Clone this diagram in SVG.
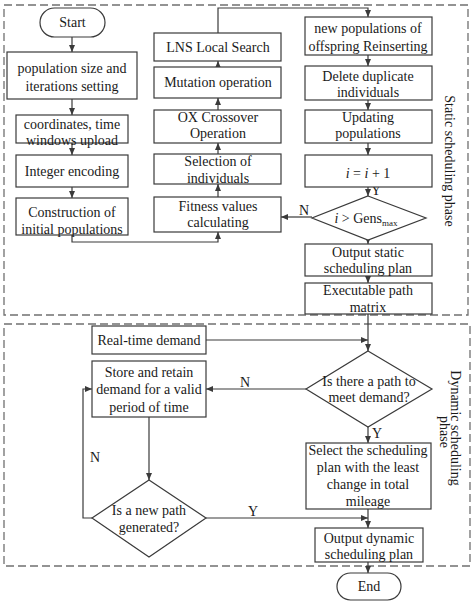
<svg xmlns="http://www.w3.org/2000/svg" width="474" height="605" viewBox="0 0 474 605">
<style>
.b{fill:#fff;stroke:#3a3a3a;stroke-width:1.2}
.t{font-family:"Liberation Serif","Times New Roman",serif;font-size:14px;fill:#1a1a1a;text-anchor:middle}
.l{font-family:"Liberation Serif","Times New Roman",serif;font-size:14px;fill:#1a1a1a}
.c{fill:none;stroke:#3a3a3a;stroke-width:1.2}
.a{marker-end:url(#ah)}
.d{fill:none;stroke:#707070;stroke-width:1.3;stroke-dasharray:8 4}
</style>
<defs>
<marker id="ah" markerUnits="userSpaceOnUse" markerWidth="8" markerHeight="8" refX="7" refY="4" orient="auto">
<path d="M0,1 L7,4 L0,7 Z" fill="#3a3a3a"/>
</marker>
</defs>
<rect class="d" x="4" y="5" width="464" height="310"/>
<rect class="d" x="4" y="324" width="466" height="242"/>
<text class="t" transform="translate(450,161) rotate(90)" dy="5" font-size="14.5">Static scheduling phase</text>
<text class="t" transform="translate(456,428) rotate(90)" dy="5" font-size="15.5">Dynamic scheduling</text>
<text class="t" transform="translate(445,432) rotate(90)" dy="5" font-size="15">phase</text>

<g id="connectors">
<path class="c a" d="M72,37 V52"/>
<path class="c a" d="M72,99 V115"/>
<path class="c a" d="M72,143 V155"/>
<path class="c a" d="M72,187 V198"/>
<path class="c a" d="M72,235 V242 H218 V232"/>
<path class="c a" d="M218,197 V184"/>
<path class="c a" d="M218,154 V143"/>
<path class="c a" d="M218,110 V98"/>
<path class="c a" d="M218,67 V61"/>
<path class="c a" d="M218,33 V8 H368 V17"/>
<path class="c a" d="M368,55 V66"/>
<path class="c a" d="M368,100 V110"/>
<path class="c a" d="M368,143 V155"/>
<path class="c a" d="M368,187 V196"/>
<path class="c a" d="M312,217 H281"/>
<path class="c a" d="M368,240 V244"/>
<path class="c a" d="M368,276 V283"/>
<path class="c a" d="M368,314 V351"/>
<path class="c a" d="M206,340 H368"/>
<path class="c a" d="M306,389 H206"/>
<path class="c a" d="M368,427 V443"/>
<path class="c a" d="M368,509 V528"/>
<path class="c a" d="M206,518 H368"/>
<path class="c a" d="M149,417 V480"/>
<path class="c a" d="M92,518 H83 V389 H92"/>
<path class="c a" d="M368,562 V573"/>
<text class="l" x="371" y="195">Y</text>
<text class="l" x="299" y="215">N</text>
<text class="l" x="240" y="387">N</text>
<text class="l" x="372" y="438">Y</text>
<text class="l" x="248" y="516">Y</text>
<text class="l" x="90" y="462">N</text>
</g>

<g id="start"><rect class="b" x="40" y="8" width="65" height="29" rx="14.5"/><text class="t" x="72.5" y="27">Start</text></g>
<g id="pop"><rect class="b" x="7" y="52" width="130" height="47"/><text class="t" x="72" y="73">population size and</text><text class="t" x="72" y="91">iterations setting</text></g>
<g id="coord"><rect class="b" x="16" y="115" width="112" height="28"/><text class="t" x="72" y="129">coordinates, time</text><text class="t" x="72" y="145">windows upload</text></g>
<g id="integer"><rect class="b" x="16" y="155" width="112" height="32"/><text class="t" x="72" y="176">Integer encoding</text></g>
<g id="construct"><rect class="b" x="16" y="198" width="112" height="37"/><text class="t" x="72" y="217">Construction of</text><text class="t" x="72" y="234">initial populations</text></g>

<g id="lns"><rect class="b" x="154" y="33" width="127" height="28"/><text class="t" x="218" y="52">LNS Local Search</text></g>
<g id="mutation"><rect class="b" x="154" y="67" width="127" height="31"/><text class="t" x="218" y="87">Mutation operation</text></g>
<g id="ox"><rect class="b" x="154" y="110" width="127" height="33"/><text class="t" x="218" y="122">OX Crossover</text><text class="t" x="218" y="138">Operation</text></g>
<g id="selection"><rect class="b" x="154" y="154" width="127" height="30"/><text class="t" x="218" y="166">Selection of</text><text class="t" x="218" y="183">individuals</text></g>
<g id="fitness"><rect class="b" x="154" y="197" width="127" height="35"/><text class="t" x="218" y="211">Fitness values</text><text class="t" x="218" y="227">calculating</text></g>

<g id="newpop"><rect class="b" x="305" y="17" width="127" height="38"/><text class="t" x="368" y="33">new populations of</text><text class="t" x="368" y="51">offspring Reinserting</text></g>
<g id="delete"><rect class="b" x="305" y="66" width="127" height="34"/><text class="t" x="368" y="81">Delete duplicate</text><text class="t" x="368" y="97">individuals</text></g>
<g id="updating"><rect class="b" x="305" y="110" width="127" height="33"/><text class="t" x="368" y="122">Updating</text><text class="t" x="368" y="138">populations</text></g>
<g id="incr"><rect class="b" x="305" y="155" width="127" height="32"/><text class="t" x="368" y="178"><tspan font-style="italic">i</tspan> = <tspan font-style="italic">i</tspan> + 1</text></g>
<g id="cond1"><path class="b" d="M368,196 L426,218 L368,240 L312,218 Z"/><text class="t" x="366" y="223"><tspan font-style="italic">i</tspan> &gt;  Gens<tspan font-size="9" dy="3">max</tspan></text></g>
<g id="outstatic"><rect class="b" x="305" y="244" width="127" height="32"/><text class="t" x="368" y="257">Output static</text><text class="t" x="368" y="273">scheduling plan</text></g>
<g id="exec"><rect class="b" x="305" y="283" width="127" height="31"/><text class="t" x="368" y="295">Executable path</text><text class="t" x="368" y="312">matrix</text></g>

<g id="realtime"><rect class="b" x="92" y="326" width="114" height="28"/><text class="t" x="149" y="345">Real-time demand</text></g>
<g id="store"><rect class="b" x="92" y="361" width="114" height="56"/><text class="t" x="149" y="377">Store and retain</text><text class="t" x="149" y="394">demand for a valid</text><text class="t" x="149" y="412">period of time</text></g>
<g id="cond2"><path class="b" d="M368,351 L432,389 L368,427 L306,389 Z"/><text class="t" x="369" y="386">Is there a path to</text><text class="t" x="369" y="402">meet demand?</text></g>
<g id="cond3"><path class="b" d="M149,480 L206,518 L149,557 L92,518 Z"/><text class="t" x="149" y="515">Is a new path</text><text class="t" x="149" y="532">generated?</text></g>
<g id="select"><rect class="b" x="306" y="443" width="125" height="66"/><text class="t" x="368" y="455">Select the scheduling</text><text class="t" x="368" y="472">plan with the least</text><text class="t" x="368" y="489">change in total</text><text class="t" x="368" y="506">mileage</text></g>
<g id="outdyn"><rect class="b" x="315" y="528" width="108" height="34"/><text class="t" x="369" y="543">Output dynamic</text><text class="t" x="369" y="559">scheduling plan</text></g>
<g id="end"><rect class="b" x="337" y="573" width="64" height="27" rx="13.5"/><text class="t" x="369" y="591">End</text></g>
</svg>
